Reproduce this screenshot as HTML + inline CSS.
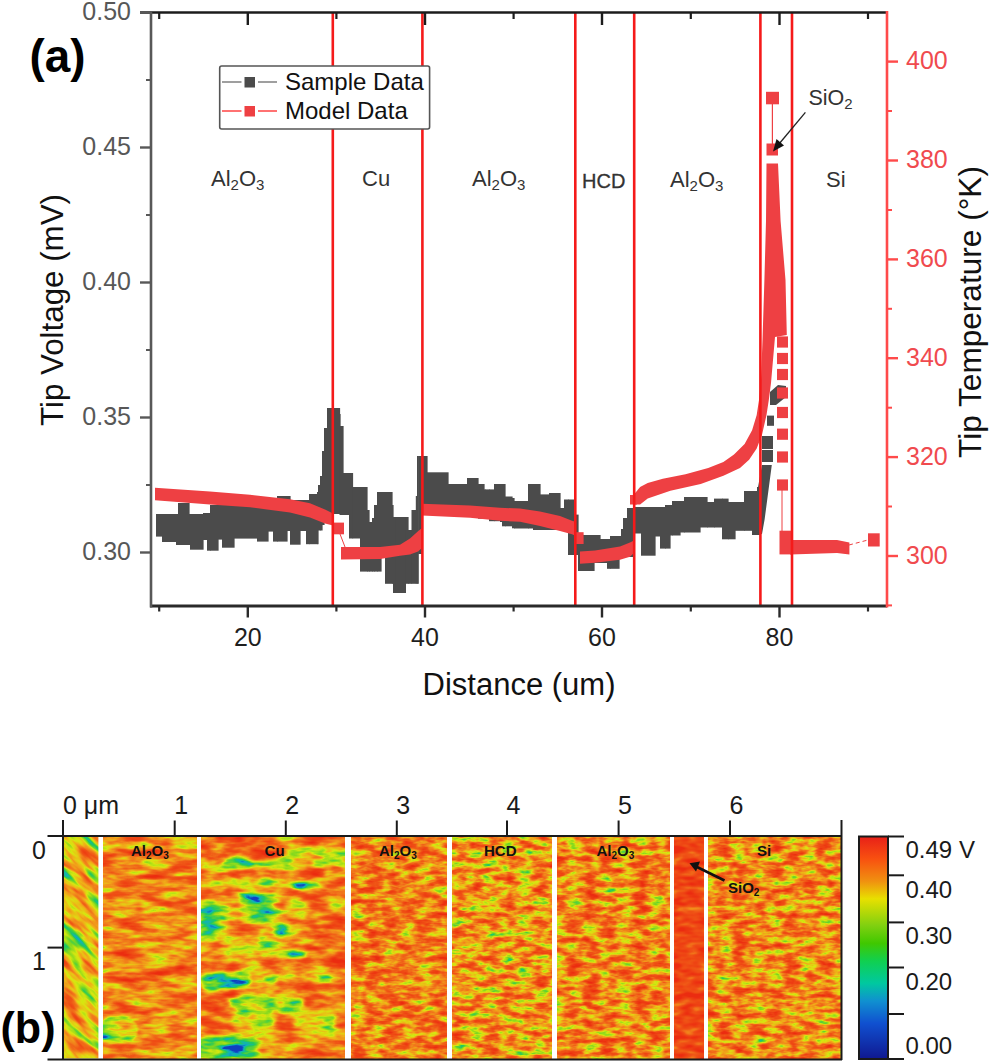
<!DOCTYPE html>
<html><head><meta charset="utf-8"><style>
html,body{margin:0;padding:0;background:#fff;width:991px;height:1062px;overflow:hidden}
svg{position:absolute;left:0;top:0;font-family:"Liberation Sans", sans-serif}
</style></head><body>
<svg width="991" height="1062" viewBox="0 0 991 1062">
<defs><filter id="s0" filterUnits="userSpaceOnUse" x="-119.0" y="747.25" width="400" height="400" color-interpolation-filters="sRGB">
<feTurbulence type="fractalNoise" baseFrequency="0.10 0.025" numOctaves="3" seed="11" result="n0"/>
<feColorMatrix in="n0" type="matrix" values="1 0 0 0 0 1 0 0 0 0 1 0 0 0 0 0 0 0 0 1" result="n"/>
<feGaussianBlur in="SourceGraphic" stdDeviation="3" result="m"/>
<feComposite in="n" in2="m" operator="arithmetic" k1="0" k2="1.2" k3="1" k4="-0.6" result="v"/>
<feComponentTransfer in="v"><feFuncR type="table" tableValues="0.063 0.063 0.063 0.063 0.063 0.063 0.063 0.070 0.080 0.090 0.100 0.110 0.120 0.145 0.195 0.245 0.295 0.345 0.394 0.444 0.494 0.537 0.579 0.622 0.664 0.706 0.748 0.790 0.832 0.856 0.869 0.883 0.897 0.910 0.924 0.937 0.942 0.943 0.945 0.946 0.947 0.948 0.949 0.948 0.947 0.945 0.944 0.943 0.942 0.941 0.940 0.939 0.938 0.937 0.936 0.935 0.933 0.932 0.931 0.930 0.929 0.928 0.927 0.925"/><feFuncG type="table" tableValues="0.251 0.321 0.390 0.460 0.530 0.600 0.669 0.701 0.716 0.731 0.745 0.760 0.775 0.788 0.796 0.804 0.813 0.821 0.829 0.837 0.846 0.853 0.861 0.869 0.876 0.884 0.892 0.899 0.907 0.889 0.858 0.826 0.794 0.762 0.731 0.699 0.669 0.639 0.609 0.579 0.549 0.519 0.492 0.470 0.447 0.424 0.401 0.378 0.355 0.333 0.320 0.308 0.297 0.286 0.274 0.263 0.252 0.240 0.229 0.218 0.207 0.195 0.184 0.173"/><feFuncB type="table" tableValues="0.753 0.753 0.753 0.753 0.753 0.753 0.753 0.711 0.651 0.592 0.532 0.472 0.412 0.363 0.330 0.297 0.264 0.230 0.197 0.164 0.131 0.119 0.111 0.104 0.096 0.088 0.081 0.073 0.065 0.066 0.070 0.075 0.079 0.084 0.088 0.093 0.096 0.098 0.101 0.103 0.106 0.108 0.108 0.105 0.102 0.099 0.096 0.093 0.090 0.087 0.085 0.083 0.081 0.080 0.078 0.076 0.075 0.073 0.071 0.070 0.068 0.066 0.064 0.063"/><feFuncA type="discrete" tableValues="1"/></feComponentTransfer>
</filter><filter id="s1" filterUnits="userSpaceOnUse" x="103.4" y="836" width="92.9" height="222.5" color-interpolation-filters="sRGB">
<feTurbulence type="fractalNoise" baseFrequency="0.035 0.12" numOctaves="3" seed="21" result="n0"/>
<feColorMatrix in="n0" type="matrix" values="1 0 0 0 0 1 0 0 0 0 1 0 0 0 0 0 0 0 0 1" result="n"/>
<feGaussianBlur in="SourceGraphic" stdDeviation="1.2" result="m"/>
<feComposite in="n" in2="m" operator="arithmetic" k1="0" k2="1.0" k3="1" k4="-0.5" result="v"/>
<feComponentTransfer in="v"><feFuncR type="table" tableValues="0.063 0.063 0.063 0.063 0.063 0.063 0.063 0.070 0.080 0.090 0.100 0.110 0.120 0.145 0.195 0.245 0.295 0.345 0.394 0.444 0.494 0.537 0.579 0.622 0.664 0.706 0.748 0.790 0.832 0.856 0.869 0.883 0.897 0.910 0.924 0.937 0.942 0.943 0.945 0.946 0.947 0.948 0.949 0.948 0.947 0.945 0.944 0.943 0.942 0.941 0.940 0.939 0.938 0.937 0.936 0.935 0.933 0.932 0.931 0.930 0.929 0.928 0.927 0.925"/><feFuncG type="table" tableValues="0.251 0.321 0.390 0.460 0.530 0.600 0.669 0.701 0.716 0.731 0.745 0.760 0.775 0.788 0.796 0.804 0.813 0.821 0.829 0.837 0.846 0.853 0.861 0.869 0.876 0.884 0.892 0.899 0.907 0.889 0.858 0.826 0.794 0.762 0.731 0.699 0.669 0.639 0.609 0.579 0.549 0.519 0.492 0.470 0.447 0.424 0.401 0.378 0.355 0.333 0.320 0.308 0.297 0.286 0.274 0.263 0.252 0.240 0.229 0.218 0.207 0.195 0.184 0.173"/><feFuncB type="table" tableValues="0.753 0.753 0.753 0.753 0.753 0.753 0.753 0.711 0.651 0.592 0.532 0.472 0.412 0.363 0.330 0.297 0.264 0.230 0.197 0.164 0.131 0.119 0.111 0.104 0.096 0.088 0.081 0.073 0.065 0.066 0.070 0.075 0.079 0.084 0.088 0.093 0.096 0.098 0.101 0.103 0.106 0.108 0.108 0.105 0.102 0.099 0.096 0.093 0.090 0.087 0.085 0.083 0.081 0.080 0.078 0.076 0.075 0.073 0.071 0.070 0.068 0.066 0.064 0.063"/><feFuncA type="discrete" tableValues="1"/></feComponentTransfer>
</filter><filter id="s2" filterUnits="userSpaceOnUse" x="201.8" y="836" width="143.2" height="222.5" color-interpolation-filters="sRGB">
<feTurbulence type="fractalNoise" baseFrequency="0.04 0.12" numOctaves="3" seed="31" result="n0"/>
<feColorMatrix in="n0" type="matrix" values="1 0 0 0 0 1 0 0 0 0 1 0 0 0 0 0 0 0 0 1" result="n"/>
<feGaussianBlur in="SourceGraphic" stdDeviation="2" result="m"/>
<feComposite in="n" in2="m" operator="arithmetic" k1="0" k2="0.9" k3="1" k4="-0.45" result="v"/>
<feComponentTransfer in="v"><feFuncR type="table" tableValues="0.063 0.063 0.063 0.063 0.063 0.063 0.063 0.070 0.080 0.090 0.100 0.110 0.120 0.145 0.195 0.245 0.295 0.345 0.394 0.444 0.494 0.537 0.579 0.622 0.664 0.706 0.748 0.790 0.832 0.856 0.869 0.883 0.897 0.910 0.924 0.937 0.942 0.943 0.945 0.946 0.947 0.948 0.949 0.948 0.947 0.945 0.944 0.943 0.942 0.941 0.940 0.939 0.938 0.937 0.936 0.935 0.933 0.932 0.931 0.930 0.929 0.928 0.927 0.925"/><feFuncG type="table" tableValues="0.251 0.321 0.390 0.460 0.530 0.600 0.669 0.701 0.716 0.731 0.745 0.760 0.775 0.788 0.796 0.804 0.813 0.821 0.829 0.837 0.846 0.853 0.861 0.869 0.876 0.884 0.892 0.899 0.907 0.889 0.858 0.826 0.794 0.762 0.731 0.699 0.669 0.639 0.609 0.579 0.549 0.519 0.492 0.470 0.447 0.424 0.401 0.378 0.355 0.333 0.320 0.308 0.297 0.286 0.274 0.263 0.252 0.240 0.229 0.218 0.207 0.195 0.184 0.173"/><feFuncB type="table" tableValues="0.753 0.753 0.753 0.753 0.753 0.753 0.753 0.711 0.651 0.592 0.532 0.472 0.412 0.363 0.330 0.297 0.264 0.230 0.197 0.164 0.131 0.119 0.111 0.104 0.096 0.088 0.081 0.073 0.065 0.066 0.070 0.075 0.079 0.084 0.088 0.093 0.096 0.098 0.101 0.103 0.106 0.108 0.108 0.105 0.102 0.099 0.096 0.093 0.090 0.087 0.085 0.083 0.081 0.080 0.078 0.076 0.075 0.073 0.071 0.070 0.068 0.066 0.064 0.063"/><feFuncA type="discrete" tableValues="1"/></feComponentTransfer>
</filter><filter id="s3" filterUnits="userSpaceOnUse" x="351.4" y="836" width="95.60000000000002" height="222.5" color-interpolation-filters="sRGB">
<feTurbulence type="fractalNoise" baseFrequency="0.06 0.16" numOctaves="3" seed="41" result="n0"/>
<feColorMatrix in="n0" type="matrix" values="1 0 0 0 0 1 0 0 0 0 1 0 0 0 0 0 0 0 0 1" result="n"/>
<feGaussianBlur in="SourceGraphic" stdDeviation="3" result="m"/>
<feComposite in="n" in2="m" operator="arithmetic" k1="0" k2="1.0" k3="1" k4="-0.5" result="v"/>
<feComponentTransfer in="v"><feFuncR type="table" tableValues="0.063 0.063 0.063 0.063 0.063 0.063 0.063 0.070 0.080 0.090 0.100 0.110 0.120 0.145 0.195 0.245 0.295 0.345 0.394 0.444 0.494 0.537 0.579 0.622 0.664 0.706 0.748 0.790 0.832 0.856 0.869 0.883 0.897 0.910 0.924 0.937 0.942 0.943 0.945 0.946 0.947 0.948 0.949 0.948 0.947 0.945 0.944 0.943 0.942 0.941 0.940 0.939 0.938 0.937 0.936 0.935 0.933 0.932 0.931 0.930 0.929 0.928 0.927 0.925"/><feFuncG type="table" tableValues="0.251 0.321 0.390 0.460 0.530 0.600 0.669 0.701 0.716 0.731 0.745 0.760 0.775 0.788 0.796 0.804 0.813 0.821 0.829 0.837 0.846 0.853 0.861 0.869 0.876 0.884 0.892 0.899 0.907 0.889 0.858 0.826 0.794 0.762 0.731 0.699 0.669 0.639 0.609 0.579 0.549 0.519 0.492 0.470 0.447 0.424 0.401 0.378 0.355 0.333 0.320 0.308 0.297 0.286 0.274 0.263 0.252 0.240 0.229 0.218 0.207 0.195 0.184 0.173"/><feFuncB type="table" tableValues="0.753 0.753 0.753 0.753 0.753 0.753 0.753 0.711 0.651 0.592 0.532 0.472 0.412 0.363 0.330 0.297 0.264 0.230 0.197 0.164 0.131 0.119 0.111 0.104 0.096 0.088 0.081 0.073 0.065 0.066 0.070 0.075 0.079 0.084 0.088 0.093 0.096 0.098 0.101 0.103 0.106 0.108 0.108 0.105 0.102 0.099 0.096 0.093 0.090 0.087 0.085 0.083 0.081 0.080 0.078 0.076 0.075 0.073 0.071 0.070 0.068 0.066 0.064 0.063"/><feFuncA type="discrete" tableValues="1"/></feComponentTransfer>
</filter><filter id="s4" filterUnits="userSpaceOnUse" x="452.0" y="836" width="100.0" height="222.5" color-interpolation-filters="sRGB">
<feTurbulence type="fractalNoise" baseFrequency="0.06 0.16" numOctaves="3" seed="51" result="n0"/>
<feColorMatrix in="n0" type="matrix" values="1 0 0 0 0 1 0 0 0 0 1 0 0 0 0 0 0 0 0 1" result="n"/>
<feGaussianBlur in="SourceGraphic" stdDeviation="3" result="m"/>
<feComposite in="n" in2="m" operator="arithmetic" k1="0" k2="1.15" k3="1" k4="-0.575" result="v"/>
<feComponentTransfer in="v"><feFuncR type="table" tableValues="0.063 0.063 0.063 0.063 0.063 0.063 0.063 0.070 0.080 0.090 0.100 0.110 0.120 0.145 0.195 0.245 0.295 0.345 0.394 0.444 0.494 0.537 0.579 0.622 0.664 0.706 0.748 0.790 0.832 0.856 0.869 0.883 0.897 0.910 0.924 0.937 0.942 0.943 0.945 0.946 0.947 0.948 0.949 0.948 0.947 0.945 0.944 0.943 0.942 0.941 0.940 0.939 0.938 0.937 0.936 0.935 0.933 0.932 0.931 0.930 0.929 0.928 0.927 0.925"/><feFuncG type="table" tableValues="0.251 0.321 0.390 0.460 0.530 0.600 0.669 0.701 0.716 0.731 0.745 0.760 0.775 0.788 0.796 0.804 0.813 0.821 0.829 0.837 0.846 0.853 0.861 0.869 0.876 0.884 0.892 0.899 0.907 0.889 0.858 0.826 0.794 0.762 0.731 0.699 0.669 0.639 0.609 0.579 0.549 0.519 0.492 0.470 0.447 0.424 0.401 0.378 0.355 0.333 0.320 0.308 0.297 0.286 0.274 0.263 0.252 0.240 0.229 0.218 0.207 0.195 0.184 0.173"/><feFuncB type="table" tableValues="0.753 0.753 0.753 0.753 0.753 0.753 0.753 0.711 0.651 0.592 0.532 0.472 0.412 0.363 0.330 0.297 0.264 0.230 0.197 0.164 0.131 0.119 0.111 0.104 0.096 0.088 0.081 0.073 0.065 0.066 0.070 0.075 0.079 0.084 0.088 0.093 0.096 0.098 0.101 0.103 0.106 0.108 0.108 0.105 0.102 0.099 0.096 0.093 0.090 0.087 0.085 0.083 0.081 0.080 0.078 0.076 0.075 0.073 0.071 0.070 0.068 0.066 0.064 0.063"/><feFuncA type="discrete" tableValues="1"/></feComponentTransfer>
</filter><filter id="s5" filterUnits="userSpaceOnUse" x="557.0" y="836" width="112.39999999999998" height="222.5" color-interpolation-filters="sRGB">
<feTurbulence type="fractalNoise" baseFrequency="0.06 0.16" numOctaves="3" seed="61" result="n0"/>
<feColorMatrix in="n0" type="matrix" values="1 0 0 0 0 1 0 0 0 0 1 0 0 0 0 0 0 0 0 1" result="n"/>
<feGaussianBlur in="SourceGraphic" stdDeviation="3" result="m"/>
<feComposite in="n" in2="m" operator="arithmetic" k1="0" k2="1.1" k3="1" k4="-0.55" result="v"/>
<feComponentTransfer in="v"><feFuncR type="table" tableValues="0.063 0.063 0.063 0.063 0.063 0.063 0.063 0.070 0.080 0.090 0.100 0.110 0.120 0.145 0.195 0.245 0.295 0.345 0.394 0.444 0.494 0.537 0.579 0.622 0.664 0.706 0.748 0.790 0.832 0.856 0.869 0.883 0.897 0.910 0.924 0.937 0.942 0.943 0.945 0.946 0.947 0.948 0.949 0.948 0.947 0.945 0.944 0.943 0.942 0.941 0.940 0.939 0.938 0.937 0.936 0.935 0.933 0.932 0.931 0.930 0.929 0.928 0.927 0.925"/><feFuncG type="table" tableValues="0.251 0.321 0.390 0.460 0.530 0.600 0.669 0.701 0.716 0.731 0.745 0.760 0.775 0.788 0.796 0.804 0.813 0.821 0.829 0.837 0.846 0.853 0.861 0.869 0.876 0.884 0.892 0.899 0.907 0.889 0.858 0.826 0.794 0.762 0.731 0.699 0.669 0.639 0.609 0.579 0.549 0.519 0.492 0.470 0.447 0.424 0.401 0.378 0.355 0.333 0.320 0.308 0.297 0.286 0.274 0.263 0.252 0.240 0.229 0.218 0.207 0.195 0.184 0.173"/><feFuncB type="table" tableValues="0.753 0.753 0.753 0.753 0.753 0.753 0.753 0.711 0.651 0.592 0.532 0.472 0.412 0.363 0.330 0.297 0.264 0.230 0.197 0.164 0.131 0.119 0.111 0.104 0.096 0.088 0.081 0.073 0.065 0.066 0.070 0.075 0.079 0.084 0.088 0.093 0.096 0.098 0.101 0.103 0.106 0.108 0.108 0.105 0.102 0.099 0.096 0.093 0.090 0.087 0.085 0.083 0.081 0.080 0.078 0.076 0.075 0.073 0.071 0.070 0.068 0.066 0.064 0.063"/><feFuncA type="discrete" tableValues="1"/></feComponentTransfer>
</filter><filter id="s6" filterUnits="userSpaceOnUse" x="674.5" y="836" width="28.799999999999955" height="222.5" color-interpolation-filters="sRGB">
<feTurbulence type="fractalNoise" baseFrequency="0.06 0.15" numOctaves="2" seed="71" result="n0"/>
<feColorMatrix in="n0" type="matrix" values="1 0 0 0 0 1 0 0 0 0 1 0 0 0 0 0 0 0 0 1" result="n"/>
<feGaussianBlur in="SourceGraphic" stdDeviation="3" result="m"/>
<feComposite in="n" in2="m" operator="arithmetic" k1="0" k2="0.7" k3="1" k4="-0.35" result="v"/>
<feComponentTransfer in="v"><feFuncR type="table" tableValues="0.063 0.063 0.063 0.063 0.063 0.063 0.063 0.070 0.080 0.090 0.100 0.110 0.120 0.145 0.195 0.245 0.295 0.345 0.394 0.444 0.494 0.537 0.579 0.622 0.664 0.706 0.748 0.790 0.832 0.856 0.869 0.883 0.897 0.910 0.924 0.937 0.942 0.943 0.945 0.946 0.947 0.948 0.949 0.948 0.947 0.945 0.944 0.943 0.942 0.941 0.940 0.939 0.938 0.937 0.936 0.935 0.933 0.932 0.931 0.930 0.929 0.928 0.927 0.925"/><feFuncG type="table" tableValues="0.251 0.321 0.390 0.460 0.530 0.600 0.669 0.701 0.716 0.731 0.745 0.760 0.775 0.788 0.796 0.804 0.813 0.821 0.829 0.837 0.846 0.853 0.861 0.869 0.876 0.884 0.892 0.899 0.907 0.889 0.858 0.826 0.794 0.762 0.731 0.699 0.669 0.639 0.609 0.579 0.549 0.519 0.492 0.470 0.447 0.424 0.401 0.378 0.355 0.333 0.320 0.308 0.297 0.286 0.274 0.263 0.252 0.240 0.229 0.218 0.207 0.195 0.184 0.173"/><feFuncB type="table" tableValues="0.753 0.753 0.753 0.753 0.753 0.753 0.753 0.711 0.651 0.592 0.532 0.472 0.412 0.363 0.330 0.297 0.264 0.230 0.197 0.164 0.131 0.119 0.111 0.104 0.096 0.088 0.081 0.073 0.065 0.066 0.070 0.075 0.079 0.084 0.088 0.093 0.096 0.098 0.101 0.103 0.106 0.108 0.108 0.105 0.102 0.099 0.096 0.093 0.090 0.087 0.085 0.083 0.081 0.080 0.078 0.076 0.075 0.073 0.071 0.070 0.068 0.066 0.064 0.063"/><feFuncA type="discrete" tableValues="1"/></feComponentTransfer>
</filter><filter id="s7" filterUnits="userSpaceOnUse" x="708.4" y="836" width="133.10000000000002" height="222.5" color-interpolation-filters="sRGB">
<feTurbulence type="fractalNoise" baseFrequency="0.06 0.16" numOctaves="3" seed="81" result="n0"/>
<feColorMatrix in="n0" type="matrix" values="1 0 0 0 0 1 0 0 0 0 1 0 0 0 0 0 0 0 0 1" result="n"/>
<feGaussianBlur in="SourceGraphic" stdDeviation="3" result="m"/>
<feComposite in="n" in2="m" operator="arithmetic" k1="0" k2="1.1" k3="1" k4="-0.55" result="v"/>
<feComponentTransfer in="v"><feFuncR type="table" tableValues="0.063 0.063 0.063 0.063 0.063 0.063 0.063 0.070 0.080 0.090 0.100 0.110 0.120 0.145 0.195 0.245 0.295 0.345 0.394 0.444 0.494 0.537 0.579 0.622 0.664 0.706 0.748 0.790 0.832 0.856 0.869 0.883 0.897 0.910 0.924 0.937 0.942 0.943 0.945 0.946 0.947 0.948 0.949 0.948 0.947 0.945 0.944 0.943 0.942 0.941 0.940 0.939 0.938 0.937 0.936 0.935 0.933 0.932 0.931 0.930 0.929 0.928 0.927 0.925"/><feFuncG type="table" tableValues="0.251 0.321 0.390 0.460 0.530 0.600 0.669 0.701 0.716 0.731 0.745 0.760 0.775 0.788 0.796 0.804 0.813 0.821 0.829 0.837 0.846 0.853 0.861 0.869 0.876 0.884 0.892 0.899 0.907 0.889 0.858 0.826 0.794 0.762 0.731 0.699 0.669 0.639 0.609 0.579 0.549 0.519 0.492 0.470 0.447 0.424 0.401 0.378 0.355 0.333 0.320 0.308 0.297 0.286 0.274 0.263 0.252 0.240 0.229 0.218 0.207 0.195 0.184 0.173"/><feFuncB type="table" tableValues="0.753 0.753 0.753 0.753 0.753 0.753 0.753 0.711 0.651 0.592 0.532 0.472 0.412 0.363 0.330 0.297 0.264 0.230 0.197 0.164 0.131 0.119 0.111 0.104 0.096 0.088 0.081 0.073 0.065 0.066 0.070 0.075 0.079 0.084 0.088 0.093 0.096 0.098 0.101 0.103 0.106 0.108 0.108 0.105 0.102 0.099 0.096 0.093 0.090 0.087 0.085 0.083 0.081 0.080 0.078 0.076 0.075 0.073 0.071 0.070 0.068 0.066 0.064 0.063"/><feFuncA type="discrete" tableValues="1"/></feComponentTransfer>
</filter></defs>
<g fill="#4b4b4b"><rect x="156" y="514" width="6.6" height="22.6"/><rect x="162" y="514" width="14.6" height="28.0"/><rect x="176" y="514" width="2.6" height="31.0"/><rect x="178" y="503" width="11.6" height="42.0"/><rect x="189" y="514" width="1.6" height="31.0"/><rect x="190" y="514" width="13.6" height="35.7"/><rect x="203" y="513" width="4.6" height="27.0"/><rect x="207" y="513" width="3.6" height="37.7"/><rect x="210" y="505" width="8.6" height="45.7"/><rect x="218" y="505" width="4.6" height="34.6"/><rect x="222" y="505" width="12.6" height="42.7"/><rect x="234" y="505" width="23.6" height="33.6"/><rect x="257" y="505" width="11.6" height="36.6"/><rect x="268" y="505" width="5.6" height="26.6"/><rect x="273" y="505" width="4.6" height="36.6"/><rect x="277" y="496" width="10.6" height="45.6"/><rect x="287" y="496" width="3.6" height="35.0"/><rect x="290" y="500" width="10.6" height="44.7"/><rect x="300" y="500" width="6.6" height="31.0"/><rect x="306" y="500" width="3.6" height="44.2"/><rect x="309" y="494" width="8.6" height="50.2"/><rect x="317" y="492" width="1.6" height="52.2"/><rect x="318" y="485" width="2.6" height="45.5"/><rect x="320" y="476" width="2.6" height="54.5"/><rect x="322" y="451" width="2.6" height="74.0"/><rect x="324" y="428" width="3.6" height="92.0"/><rect x="327" y="408" width="13.1" height="106.0"/><rect x="339.5" y="414" width="1.1" height="101.0"/><rect x="340" y="426" width="3.6" height="89.0"/><rect x="343" y="473" width="6.6" height="42.0"/><rect x="349" y="473" width="4.1" height="65.5"/><rect x="352.5" y="487" width="8.1" height="51.5"/><rect x="360" y="487" width="7.6" height="84.6"/><rect x="367" y="510" width="2.6" height="61.6"/><rect x="369" y="522" width="3.6" height="49.6"/><rect x="372" y="518" width="2.6" height="53.6"/><rect x="374" y="505" width="3.6" height="66.6"/><rect x="377" y="492" width="4.6" height="79.6"/><rect x="381" y="492" width="4.6" height="64.0"/><rect x="385" y="492" width="7.6" height="91.8"/><rect x="392" y="505" width="1.6" height="78.8"/><rect x="393" y="517" width="3.1" height="76.0"/><rect x="395.5" y="517" width="10.5" height="76.0"/><rect x="405.4" y="517" width="3.2" height="66.8"/><rect x="408" y="530" width="4.1" height="53.8"/><rect x="411.5" y="510" width="4.9" height="73.8"/><rect x="415.8" y="496" width="1.8" height="87.8"/><rect x="417" y="456" width="1.8" height="127.8"/><rect x="418.2" y="456" width="4.4" height="98.0"/><rect x="422" y="456" width="5.6" height="59.0"/><rect x="427" y="472.3" width="21.6" height="42.7"/><rect x="448" y="484" width="19.6" height="31.0"/><rect x="467" y="478" width="11.6" height="37.0"/><rect x="478" y="484" width="6.6" height="34.7"/><rect x="484" y="489.4" width="1.6" height="29.3"/><rect x="485" y="489.4" width="4.6" height="29.6"/><rect x="489" y="489.4" width="5.6" height="31.8"/><rect x="494" y="484" width="6.6" height="37.2"/><rect x="500" y="484" width="2.6" height="38.0"/><rect x="502" y="484" width="3.6" height="42.3"/><rect x="505" y="496.5" width="7.6" height="29.8"/><rect x="512" y="498" width="2.6" height="30.3"/><rect x="514" y="501" width="14.6" height="27.5"/><rect x="528" y="484" width="5.6" height="44.5"/><rect x="533" y="484" width="7.6" height="46.0"/><rect x="540" y="494.4" width="9.6" height="35.6"/><rect x="549" y="493" width="11.6" height="37.0"/><rect x="560" y="508" width="4.6" height="22.0"/><rect x="564" y="499.5" width="4.6" height="30.5"/><rect x="568" y="499.5" width="7.6" height="55.5"/><rect x="575" y="514.6" width="3.6" height="40.4"/><rect x="578" y="534.8" width="5.6" height="36.2"/><rect x="583" y="535" width="11.6" height="36.0"/><rect x="594" y="535" width="6.6" height="28.0"/><rect x="600" y="539" width="7.6" height="24.0"/><rect x="607" y="539" width="3.6" height="29.8"/><rect x="610" y="536" width="9.6" height="32.8"/><rect x="619" y="536" width="2.6" height="21.0"/><rect x="621" y="529" width="2.6" height="28.0"/><rect x="623" y="518" width="4.6" height="39.0"/><rect x="627" y="508" width="7.6" height="49.0"/><rect x="634" y="507" width="7.6" height="26.5"/><rect x="641" y="507" width="14.6" height="48.7"/><rect x="655" y="507" width="5.6" height="29.5"/><rect x="660" y="507" width="5.6" height="41.6"/><rect x="665" y="505" width="5.6" height="43.6"/><rect x="670" y="505" width="2.6" height="30.5"/><rect x="672" y="501" width="8.6" height="34.5"/><rect x="680" y="501" width="4.6" height="31.5"/><rect x="684" y="497" width="16.6" height="35.5"/><rect x="700" y="497" width="7.6" height="30.5"/><rect x="707" y="502" width="7.6" height="25.5"/><rect x="714" y="498.6" width="8.6" height="28.9"/><rect x="722" y="498.6" width="6.6" height="40.7"/><rect x="728" y="502" width="7.6" height="37.3"/><rect x="735" y="502" width="9.6" height="28.8"/><rect x="744" y="491" width="8.6" height="39.8"/><rect x="752" y="491" width="5.6" height="44.0"/><rect x="757" y="487" width="3.6" height="48.0"/></g><polygon fill="#4b4b4b" points="757,491 758.2,486.3 762,465 771.8,465 764.6,519.6 762,534 757,535"/><g fill="#4b4b4b"><rect x="762" y="436" width="11" height="13"/><rect x="762" y="450" width="11" height="12"/><rect x="767" y="415.6" width="7" height="10.2"/><polygon points="770,392 778,385 786,386 786,397 776,405 770,405"/></g><polygon fill="#ee4043" points="155,487.7 210,491.5 250,494.7 290,499.3 310,503.3 325,509.4 333,513.4 333,525.5 325,523.5 310,517.4 290,512.4 250,507.3 210,504.5 155,500.3"/><rect x="333" y="522.6" width="11" height="11.7" fill="#ee4043"/><line x1="340" y1="534" x2="345" y2="547" stroke="#ee4043" stroke-width="1"/><polygon fill="#ee4043" points="341,547 380,547 400,544.7 410,538.5 418,531.2 422,528 422,548 418,551.4 410,554.5 400,555.7 380,559 341,559.4"/><polygon fill="#ee4043" points="422,503.7 470,505.6 500,507.7 520,508.6 540,511.5 560,516 572,520.8 576,522 576,536 572,534.2 560,531 540,526 520,521.7 500,520.8 470,517.7 422,515.5"/><rect x="575" y="532.2" width="8.6" height="11.8" fill="#ee4043"/><polygon fill="#ee4043" points="580,551.5 595,550.6 620,546.6 630,542.6 634,540.5 634,553 630,556.7 620,559.7 595,562.7 580,563.8"/><rect x="630" y="495" width="7" height="9.5" fill="#ee4043"/><polygon fill="#ee4043" points="634,494.6 640.1,487 647.7,483 662.8,478.7 685.5,474.2 708.2,468.1 723.4,462 734,454.5 744.6,443.9 752.1,430.3 756.7,415.1 759,400 761,380 762.5,340 764.4,280 766,221 766.5,163.5 778,163.5 780.6,221 785.5,280 786.8,335 775,337 771,383 768.8,400 766.5,415.1 762,434.8 756.7,448.4 749.1,459.8 740,468.1 723.4,475.7 700.7,484 670.4,490.8 647.7,498.4 640.1,504.4 634,504.4"/><line x1="772.4" y1="98" x2="772.4" y2="150" stroke="#ee4043" stroke-width="1.2"/><rect x="766" y="91.8" width="13" height="12.5" fill="#ee4043"/><rect x="766.5" y="143.5" width="11.5" height="12" fill="#ee4043"/><rect x="777" y="336.4" width="11" height="11.2" fill="#ee4043"/><rect x="777" y="352.9" width="11" height="11.2" fill="#ee4043"/><rect x="777" y="368.9" width="11" height="11.2" fill="#ee4043"/><rect x="777" y="387.4" width="11" height="11.2" fill="#ee4043"/><rect x="777" y="406.9" width="11" height="11.2" fill="#ee4043"/><rect x="777" y="428.59999999999997" width="11" height="11.2" fill="#ee4043"/><rect x="777" y="451.4" width="11" height="11.2" fill="#ee4043"/><rect x="777" y="479.4" width="11" height="11.2" fill="#ee4043"/><line x1="782" y1="485" x2="782" y2="531" stroke="#ee4043" stroke-width="1"/><rect x="779.5" y="530.7" width="13" height="23.7" fill="#ee4043"/><polygon fill="#ee4043" points="790,540 837,540 849.4,542.5 849.4,554.4 837,553 790,554.4"/><line x1="849" y1="545" x2="868" y2="540" stroke="#ee4043" stroke-width="1" stroke-dasharray="4,3"/><rect x="868" y="533.3" width="11.7" height="13.2" fill="#ee4043"/><line x1="332.8" y1="12" x2="332.8" y2="606" stroke="#f51a1a" stroke-width="2.6"/><line x1="422.4" y1="12" x2="422.4" y2="606" stroke="#f51a1a" stroke-width="2.6"/><line x1="575.3" y1="12" x2="575.3" y2="606" stroke="#f51a1a" stroke-width="2.6"/><line x1="634.2" y1="12" x2="634.2" y2="606" stroke="#f51a1a" stroke-width="2.6"/><line x1="760.4" y1="12" x2="760.4" y2="606" stroke="#f51a1a" stroke-width="2.6"/><line x1="792.0" y1="12" x2="792.0" y2="606" stroke="#f51a1a" stroke-width="2.6"/><line x1="805.4" y1="112.3" x2="779" y2="144" stroke="#222" stroke-width="1.3"/><polygon fill="#111" points="773,151.5 776.5,139 784,145.5"/><line x1="140" y1="12.5" x2="887" y2="12.5" stroke="#1c1c1c" stroke-width="2.4"/><line x1="150" y1="606" x2="887" y2="606" stroke="#2a2a2a" stroke-width="3"/><line x1="151" y1="11" x2="151" y2="607.5" stroke="#585858" stroke-width="2.6"/><line x1="887" y1="11" x2="887" y2="607.5" stroke="#ff4a4a" stroke-width="2.6"/><line x1="140" y1="12.5" x2="151" y2="12.5" stroke="#585858" stroke-width="2.4"/><line x1="140" y1="147.5" x2="151" y2="147.5" stroke="#585858" stroke-width="2.4"/><line x1="140" y1="282.5" x2="151" y2="282.5" stroke="#585858" stroke-width="2.4"/><line x1="140" y1="417.5" x2="151" y2="417.5" stroke="#585858" stroke-width="2.4"/><line x1="140" y1="552.5" x2="151" y2="552.5" stroke="#585858" stroke-width="2.4"/><line x1="146" y1="80" x2="151" y2="80" stroke="#585858" stroke-width="2"/><line x1="146" y1="215" x2="151" y2="215" stroke="#585858" stroke-width="2"/><line x1="146" y1="350" x2="151" y2="350" stroke="#585858" stroke-width="2"/><line x1="146" y1="485" x2="151" y2="485" stroke="#585858" stroke-width="2"/><line x1="887" y1="61.6" x2="898" y2="61.6" stroke="#ff4a4a" stroke-width="2.4"/><line x1="887" y1="160.5" x2="898" y2="160.5" stroke="#ff4a4a" stroke-width="2.4"/><line x1="887" y1="259.4" x2="898" y2="259.4" stroke="#ff4a4a" stroke-width="2.4"/><line x1="887" y1="358.2" x2="898" y2="358.2" stroke="#ff4a4a" stroke-width="2.4"/><line x1="887" y1="457.1" x2="898" y2="457.1" stroke="#ff4a4a" stroke-width="2.4"/><line x1="887" y1="556" x2="898" y2="556" stroke="#ff4a4a" stroke-width="2.4"/><line x1="887" y1="111" x2="892" y2="111" stroke="#ff4a4a" stroke-width="2"/><line x1="887" y1="210" x2="892" y2="210" stroke="#ff4a4a" stroke-width="2"/><line x1="887" y1="308.8" x2="892" y2="308.8" stroke="#ff4a4a" stroke-width="2"/><line x1="887" y1="407.7" x2="892" y2="407.7" stroke="#ff4a4a" stroke-width="2"/><line x1="887" y1="506.5" x2="892" y2="506.5" stroke="#ff4a4a" stroke-width="2"/><line x1="887" y1="605.4" x2="892" y2="605.4" stroke="#ff4a4a" stroke-width="2"/><line x1="247.8" y1="12" x2="247.8" y2="25" stroke="#1c1c1c" stroke-width="2.4"/><line x1="247.8" y1="606" x2="247.8" y2="617.5" stroke="#2a2a2a" stroke-width="2.4"/><line x1="425" y1="12" x2="425" y2="25" stroke="#1c1c1c" stroke-width="2.4"/><line x1="425" y1="606" x2="425" y2="617.5" stroke="#2a2a2a" stroke-width="2.4"/><line x1="602" y1="12" x2="602" y2="25" stroke="#1c1c1c" stroke-width="2.4"/><line x1="602" y1="606" x2="602" y2="617.5" stroke="#2a2a2a" stroke-width="2.4"/><line x1="779.5" y1="12" x2="779.5" y2="25" stroke="#1c1c1c" stroke-width="2.4"/><line x1="779.5" y1="606" x2="779.5" y2="617.5" stroke="#2a2a2a" stroke-width="2.4"/><line x1="159.2" y1="12" x2="159.2" y2="19" stroke="#1c1c1c" stroke-width="2.2"/><line x1="159.2" y1="606" x2="159.2" y2="611.5" stroke="#2a2a2a" stroke-width="2.2"/><line x1="336.4" y1="12" x2="336.4" y2="19" stroke="#1c1c1c" stroke-width="2.2"/><line x1="336.4" y1="606" x2="336.4" y2="611.5" stroke="#2a2a2a" stroke-width="2.2"/><line x1="513.6" y1="12" x2="513.6" y2="19" stroke="#1c1c1c" stroke-width="2.2"/><line x1="513.6" y1="606" x2="513.6" y2="611.5" stroke="#2a2a2a" stroke-width="2.2"/><line x1="690.8" y1="12" x2="690.8" y2="19" stroke="#1c1c1c" stroke-width="2.2"/><line x1="690.8" y1="606" x2="690.8" y2="611.5" stroke="#2a2a2a" stroke-width="2.2"/><line x1="868" y1="12" x2="868" y2="19" stroke="#1c1c1c" stroke-width="2.2"/><line x1="868" y1="606" x2="868" y2="611.5" stroke="#2a2a2a" stroke-width="2.2"/><text x="131" y="20.0" font-size="25" fill="#575757" text-anchor="end" font-weight="normal" >0.50</text><text x="131" y="155.0" font-size="25" fill="#575757" text-anchor="end" font-weight="normal" >0.45</text><text x="131" y="290.0" font-size="25" fill="#575757" text-anchor="end" font-weight="normal" >0.40</text><text x="131" y="425.0" font-size="25" fill="#575757" text-anchor="end" font-weight="normal" >0.35</text><text x="131" y="560.0" font-size="25" fill="#575757" text-anchor="end" font-weight="normal" >0.30</text><text x="906" y="69.1" font-size="25" fill="#f04a4e" text-anchor="start" font-weight="normal" >400</text><text x="906" y="168.0" font-size="25" fill="#f04a4e" text-anchor="start" font-weight="normal" >380</text><text x="906" y="266.9" font-size="25" fill="#f04a4e" text-anchor="start" font-weight="normal" >360</text><text x="906" y="365.7" font-size="25" fill="#f04a4e" text-anchor="start" font-weight="normal" >340</text><text x="906" y="464.6" font-size="25" fill="#f04a4e" text-anchor="start" font-weight="normal" >320</text><text x="906" y="563.5" font-size="25" fill="#f04a4e" text-anchor="start" font-weight="normal" >300</text><text x="247.8" y="646" font-size="25" fill="#1e1e1e" text-anchor="middle" font-weight="normal" >20</text><text x="425" y="646" font-size="25" fill="#1e1e1e" text-anchor="middle" font-weight="normal" >40</text><text x="602" y="646" font-size="25" fill="#1e1e1e" text-anchor="middle" font-weight="normal" >60</text><text x="779.5" y="646" font-size="25" fill="#1e1e1e" text-anchor="middle" font-weight="normal" >80</text><text x="519" y="695" font-size="31" fill="#111" text-anchor="middle" font-weight="normal" >Distance (um)</text><text x="0" y="0" font-size="31.3" fill="#111" text-anchor="middle" transform="translate(63,310) rotate(-90)">Tip Voltage (mV)</text><text x="0" y="0" font-size="31.6" fill="#111" text-anchor="middle" transform="translate(981,312) rotate(-90)">Tip Temperature (°K)</text><text x="29.5" y="72" font-size="47" fill="#000" text-anchor="start" font-weight="bold" textLength="56" lengthAdjust="spacingAndGlyphs">(a)</text><text x="211" y="186.4" font-size="22" fill="#333" font-weight="normal">Al<tspan font-size="15" dy="4">2</tspan><tspan dy="-4">O</tspan><tspan font-size="15" dy="4">3</tspan></text><text x="362" y="186.4" font-size="22" fill="#333" text-anchor="start" font-weight="normal" >Cu</text><text x="472" y="186.4" font-size="22" fill="#333" font-weight="normal">Al<tspan font-size="15" dy="4">2</tspan><tspan dy="-4">O</tspan><tspan font-size="15" dy="4">3</tspan></text><text x="582" y="188.2" font-size="20" fill="#333" text-anchor="start" font-weight="normal" stroke="#333" stroke-width="0.3">HCD</text><text x="670" y="186.5" font-size="22" fill="#333" font-weight="normal">Al<tspan font-size="15" dy="4">2</tspan><tspan dy="-4">O</tspan><tspan font-size="15" dy="4">3</tspan></text><text x="826" y="186.5" font-size="22" fill="#333" text-anchor="start" font-weight="normal" >Si</text><text x="808.5" y="104.5" font-size="21.5" fill="#333">SiO<tspan font-size="15" dy="4">2</tspan></text><rect x="219.7" y="66" width="209.9" height="63" rx="2" fill="#fff" stroke="#555" stroke-width="1.6"/><path d="M222 82H241.5M258 82H277" stroke="#808080" stroke-width="1.5"/><rect x="244.5" y="77" width="10.5" height="10.5" fill="#4b4b4b"/><path d="M222 111H241.5M258 111H277" stroke="#f44" stroke-width="1.5"/><rect x="244.5" y="106" width="10.5" height="10.5" fill="#ee4043"/><text x="285" y="89.6" font-size="24" fill="#111" text-anchor="start" font-weight="normal" >Sample Data</text><text x="285" y="118.6" font-size="24" fill="#111" text-anchor="start" font-weight="normal" >Model Data</text>
<rect x="63" y="836" width="779" height="222.5" fill="#ffffff"/><g clip-path="url(#cs0)"><g transform="rotate(-48 81.0 947.25)" filter="url(#s0)"><rect x="-139.0" y="727.25" width="440" height="440" fill="rgb(133,133,133)"/></g></g><g filter="url(#s1)"><rect x="83.4" y="816" width="132.9" height="262.5" fill="rgb(164,164,164)"/><rect x="90" y="876" width="120" height="3" fill="rgb(201,201,201)"/><rect x="90" y="972" width="120" height="3" fill="rgb(201,201,201)"/><rect x="90" y="985" width="120" height="2" fill="rgb(201,201,201)"/><rect x="90" y="850" width="120" height="16" fill="rgb(166,166,166)"/><ellipse cx="118" cy="1030" rx="20.0" ry="14.3" fill="rgb(107,107,107)"/><ellipse cx="170" cy="1000" rx="30" ry="12" fill="rgb(166,166,166)"/></g><g filter="url(#s2)"><rect x="181.8" y="816" width="183.2" height="262.5" fill="rgb(161,161,161)"/><rect x="190" y="820" width="170" height="24" fill="rgb(191,191,191)"/><rect x="190" y="843" width="98" height="15" fill="rgb(186,186,186)"/><ellipse cx="318" cy="858" rx="37.5" ry="11.700000000000001" fill="rgb(133,133,133)"/><ellipse cx="320" cy="852" rx="35.0" ry="6.5" fill="rgb(102,102,102)"/><ellipse cx="250" cy="866" rx="31.25" ry="5.2" fill="rgb(107,107,107)"/><ellipse cx="238" cy="864" rx="16.25" ry="5.2" fill="rgb(46,46,46)"/><ellipse cx="317" cy="868" rx="35.0" ry="9.1" fill="rgb(122,122,122)"/><rect x="190" y="870" width="135" height="9" fill="rgb(196,196,196)"/><circle cx="337" cy="878" r="10" fill="rgb(186,186,186)"/><ellipse cx="265" cy="884" rx="56.25" ry="7.800000000000001" fill="rgb(115,115,115)"/><ellipse cx="268" cy="883" rx="6.25" ry="3.9000000000000004" fill="rgb(51,51,51)"/><ellipse cx="300" cy="885" rx="7.5" ry="3.9000000000000004" fill="rgb(31,31,31)"/><rect x="190" y="889" width="170" height="7" fill="rgb(196,196,196)"/><ellipse cx="215" cy="912" rx="22.5" ry="10.4" fill="rgb(82,82,82)"/><ellipse cx="258" cy="906" rx="30.0" ry="15.600000000000001" fill="rgb(92,92,92)"/><ellipse cx="250" cy="901" rx="10.0" ry="5.2" fill="rgb(26,26,26)"/><ellipse cx="285" cy="905" rx="11" ry="5" fill="rgb(181,181,181)"/><ellipse cx="298" cy="910" rx="15.0" ry="10.4" fill="rgb(115,115,115)"/><circle cx="322" cy="918" r="16" fill="rgb(186,186,186)"/><ellipse cx="208" cy="932" rx="10.0" ry="15.600000000000001" fill="rgb(76,76,76)"/><ellipse cx="229" cy="933" rx="13.75" ry="15.600000000000001" fill="rgb(128,128,128)"/><ellipse cx="251" cy="930" rx="12" ry="8" fill="rgb(186,186,186)"/><ellipse cx="275" cy="935" rx="16.25" ry="13.0" fill="rgb(115,115,115)"/><ellipse cx="280" cy="930" rx="6.25" ry="5.2" fill="rgb(46,46,46)"/><ellipse cx="297" cy="935" rx="10" ry="12" fill="rgb(153,153,153)"/><rect x="306" y="935" width="50" height="15" fill="rgb(186,186,186)"/><ellipse cx="245" cy="950" rx="50.0" ry="7.800000000000001" fill="rgb(122,122,122)"/><ellipse cx="251" cy="954" rx="5.0" ry="2.6" fill="rgb(31,31,31)"/><ellipse cx="297" cy="956" rx="10.0" ry="3.9000000000000004" fill="rgb(51,51,51)"/><rect x="190" y="958" width="170" height="9" fill="rgb(196,196,196)"/><ellipse cx="253" cy="980" rx="25.0" ry="15.600000000000001" fill="rgb(115,115,115)"/><ellipse cx="226" cy="982" rx="25.0" ry="10.4" fill="rgb(56,56,56)"/><ellipse cx="218" cy="979" rx="10.0" ry="3.9000000000000004" fill="rgb(26,26,26)"/><ellipse cx="294" cy="982" rx="18" ry="9" fill="rgb(186,186,186)"/><ellipse cx="318" cy="975" rx="17.5" ry="9.1" fill="rgb(115,115,115)"/><rect x="330" y="967" width="26" height="27" fill="rgb(176,176,176)"/><rect x="200" y="990" width="100" height="3" fill="rgb(217,217,217)"/><rect x="190" y="995" width="50" height="16" fill="rgb(191,191,191)"/><ellipse cx="270" cy="1003" rx="41.25" ry="10.4" fill="rgb(97,97,97)"/><ellipse cx="268" cy="1004" rx="10.0" ry="2.6" fill="rgb(31,31,31)"/><ellipse cx="316" cy="1003" rx="13" ry="8" fill="rgb(186,186,186)"/><rect x="244" y="1011" width="33" height="2" fill="rgb(217,217,217)"/><ellipse cx="218" cy="1024" rx="18" ry="12" fill="rgb(196,196,196)"/><ellipse cx="255" cy="1023" rx="22.5" ry="15.600000000000001" fill="rgb(122,122,122)"/><ellipse cx="284" cy="1027" rx="10" ry="9" fill="rgb(181,181,181)"/><ellipse cx="318" cy="1024" rx="25.0" ry="15.600000000000001" fill="rgb(117,117,117)"/><rect x="335" y="1011" width="21" height="25" fill="rgb(191,191,191)"/><ellipse cx="228" cy="1048" rx="37.5" ry="14.3" fill="rgb(71,71,71)"/><ellipse cx="232" cy="1050" rx="12.5" ry="5.2" fill="rgb(20,20,20)"/><ellipse cx="273" cy="1047" rx="14" ry="11" fill="rgb(153,153,153)"/><rect x="288" y="1036" width="68" height="33" fill="rgb(171,171,171)"/></g><g filter="url(#s3)"><rect x="331.4" y="816" width="135.60000000000002" height="262.5" fill="rgb(171,171,171)"/></g><g filter="url(#s4)"><rect x="432.0" y="816" width="140.0" height="262.5" fill="rgb(156,156,156)"/></g><g filter="url(#s5)"><rect x="537.0" y="816" width="152.39999999999998" height="262.5" fill="rgb(166,166,166)"/></g><g filter="url(#s6)"><rect x="654.5" y="816" width="68.79999999999995" height="262.5" fill="rgb(217,217,217)"/></g><g filter="url(#s7)"><rect x="688.4" y="816" width="173.10000000000002" height="262.5" fill="rgb(164,164,164)"/></g><defs><clipPath id="cs0"><rect x="63.6" y="836" width="34.800000000000004" height="222.5"/></clipPath></defs><line x1="47.5" y1="836" x2="842" y2="836" stroke="#1a1a1a" stroke-width="2"/><line x1="47.5" y1="1059.5" x2="842" y2="1059.5" stroke="#1a1a1a" stroke-width="2"/><line x1="63" y1="820" x2="63" y2="1060" stroke="#1a1a1a" stroke-width="2"/><line x1="841.5" y1="820" x2="841.5" y2="1060" stroke="#1a1a1a" stroke-width="2"/><line x1="47.5" y1="947.6" x2="63" y2="947.6" stroke="#1a1a1a" stroke-width="2"/><line x1="174.7" y1="820.5" x2="174.7" y2="836" stroke="#1a1a1a" stroke-width="2"/><line x1="285.8" y1="820.5" x2="285.8" y2="836" stroke="#1a1a1a" stroke-width="2"/><line x1="396.8" y1="820.5" x2="396.8" y2="836" stroke="#1a1a1a" stroke-width="2"/><line x1="507" y1="820.5" x2="507" y2="836" stroke="#1a1a1a" stroke-width="2"/><line x1="618.6" y1="820.5" x2="618.6" y2="836" stroke="#1a1a1a" stroke-width="2"/><line x1="730" y1="820.5" x2="730" y2="836" stroke="#1a1a1a" stroke-width="2"/><text x="63" y="814" font-size="25" fill="#1a1a1a" text-anchor="start" font-weight="normal" >0 μm</text><text x="174.2" y="814" font-size="25" fill="#1a1a1a" text-anchor="start" font-weight="normal" >1</text><text x="285.3" y="814" font-size="25" fill="#1a1a1a" text-anchor="start" font-weight="normal" >2</text><text x="396.3" y="814" font-size="25" fill="#1a1a1a" text-anchor="start" font-weight="normal" >3</text><text x="506.5" y="814" font-size="25" fill="#1a1a1a" text-anchor="start" font-weight="normal" >4</text><text x="618.1" y="814" font-size="25" fill="#1a1a1a" text-anchor="start" font-weight="normal" >5</text><text x="729.5" y="814" font-size="25" fill="#1a1a1a" text-anchor="start" font-weight="normal" >6</text><text x="32" y="859" font-size="25" fill="#1a1a1a" text-anchor="start" font-weight="normal" >0</text><text x="32" y="970" font-size="25" fill="#1a1a1a" text-anchor="start" font-weight="normal" >1</text><text x="0.5" y="1043" font-size="45" fill="#000" text-anchor="start" font-weight="bold" textLength="55" lengthAdjust="spacingAndGlyphs">(b)</text><text x="131" y="856" font-size="15" font-weight="bold" fill="#111">Al<tspan font-size="10" dy="3">2</tspan><tspan dy="-3">O</tspan><tspan font-size="10" dy="3">3</tspan></text><text x="264.6" y="856" font-size="15" font-weight="bold" fill="#111">Cu</text><text x="379" y="856" font-size="15" font-weight="bold" fill="#111">Al<tspan font-size="10" dy="3">2</tspan><tspan dy="-3">O</tspan><tspan font-size="10" dy="3">3</tspan></text><text x="484" y="856" font-size="15" font-weight="bold" fill="#111">HCD</text><text x="596.5" y="856" font-size="15" font-weight="bold" fill="#111">Al<tspan font-size="10" dy="3">2</tspan><tspan dy="-3">O</tspan><tspan font-size="10" dy="3">3</tspan></text><text x="757" y="856" font-size="15" font-weight="bold" fill="#111">Si</text><text x="728" y="893" font-size="15" font-weight="bold" fill="#111">SiO<tspan font-size="10" dy="3">2</tspan></text><line x1="724.5" y1="880.5" x2="697" y2="867" stroke="#111" stroke-width="2.6"/><polygon fill="#111" points="689.5,863.2 700,861.5 696,871.5"/><defs><linearGradient id="cb" x1="0" y1="0" x2="0" y2="1">
<stop offset="0" stop-color="#e82018"/><stop offset="0.10" stop-color="#f85010"/><stop offset="0.20" stop-color="#f09010"/>
<stop offset="0.28" stop-color="#e8e000"/><stop offset="0.40" stop-color="#80d010"/><stop offset="0.48" stop-color="#40c800"/>
<stop offset="0.56" stop-color="#10d050"/><stop offset="0.66" stop-color="#00c8a0"/><stop offset="0.74" stop-color="#1090d0"/>
<stop offset="0.84" stop-color="#1050d0"/><stop offset="1" stop-color="#101890"/></linearGradient></defs><rect x="859" y="836.5" width="29" height="222.5" fill="url(#cb)" stroke="#1a1a1a" stroke-width="2"/><line x1="888" y1="836.5" x2="904" y2="836.5" stroke="#1a1a1a" stroke-width="2"/><line x1="888" y1="875.3" x2="904" y2="875.3" stroke="#1a1a1a" stroke-width="2"/><line x1="888" y1="922.4" x2="904" y2="922.4" stroke="#1a1a1a" stroke-width="2"/><line x1="888" y1="967.5" x2="904" y2="967.5" stroke="#1a1a1a" stroke-width="2"/><line x1="888" y1="1014" x2="904" y2="1014" stroke="#1a1a1a" stroke-width="2"/><line x1="888" y1="1059" x2="904" y2="1059" stroke="#1a1a1a" stroke-width="2"/><text x="905.5" y="858" font-size="24" fill="#1a1a1a" text-anchor="start" font-weight="normal" >0.49 V</text><text x="905.5" y="897.5" font-size="24" fill="#1a1a1a" text-anchor="start" font-weight="normal" >0.40</text><text x="905.5" y="943.6" font-size="24" fill="#1a1a1a" text-anchor="start" font-weight="normal" >0.30</text><text x="905.5" y="989.7" font-size="24" fill="#1a1a1a" text-anchor="start" font-weight="normal" >0.20</text><text x="905.5" y="1054" font-size="24" fill="#1a1a1a" text-anchor="start" font-weight="normal" >0.00</text>
</svg></body></html>
